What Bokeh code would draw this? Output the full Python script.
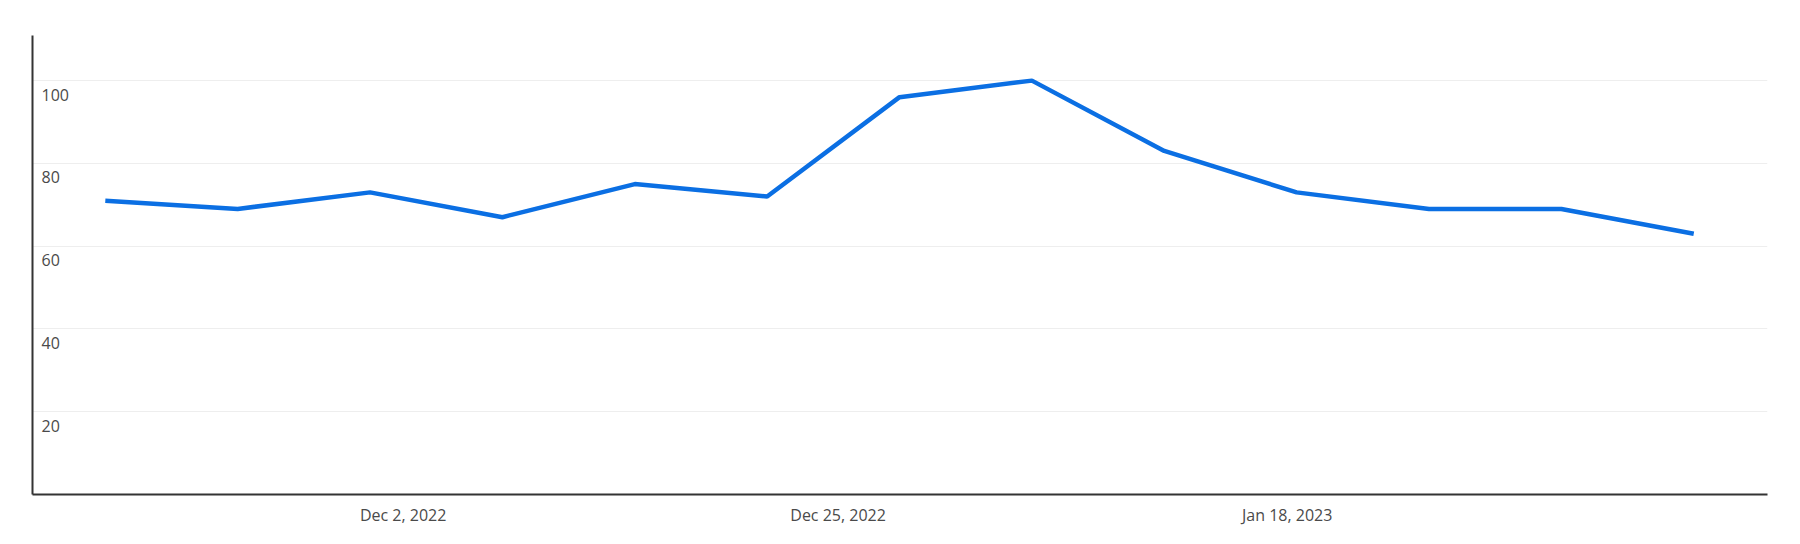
import pandas as pd
from bokeh.plotting import figure
from bokeh.models import FixedTicker, DatetimeTickFormatter, Range1d
from bokeh.core.properties import value
from bokeh.embed import file_html
from bokeh.resources import INLINE

# ---- data ----
dates = ["2022-11-16 12:00", "2022-11-23 12:00", "2022-11-30 12:00",
         "2022-12-07 12:00", "2022-12-14 12:00", "2022-12-21 12:00",
         "2022-12-28 12:00", "2023-01-04 12:00", "2023-01-11 12:00",
         "2023-01-18 12:00", "2023-01-25 12:00", "2023-02-01 12:00",
         "2023-02-08 12:00"]
values = [71, 69, 73, 67, 75, 72, 96, 100, 83, 73, 69, 69, 63]
x_tick_dates = ["2022-12-02 06:00", "2022-12-25 06:00", "2023-01-18 00:00"]
y_ticks = [20, 40, 60, 80, 100]
y_tick_labels = ["20", "40", "60", "80", "100"]

x = pd.to_datetime(dates)
x_start = x[0] - pd.Timedelta(days=3.85)
x_end = x[-1] + pd.Timedelta(days=3.9)

p = figure(width=1784, height=528, x_axis_type="datetime",
           output_backend="svg", toolbar_location=None,
           x_range=Range1d(x_start, x_end), y_range=Range1d(0, 110.9),
           min_border_left=32, min_border_right=17,
           min_border_top=35, min_border_bottom=34)
p.outline_line_color = None
p.background_fill_color = "white"
p.border_fill_color = "white"

p.line(x, values, line_color="#0b6fe3", line_width=4.5)

# x axis
tick_ms = [pd.Timestamp(d).value / 1e6 for d in x_tick_dates]
p.xaxis.ticker = FixedTicker(ticks=tick_ms)
fmt = "%b %-d, %Y"
p.xaxis.formatter = DatetimeTickFormatter(
    microseconds=fmt, milliseconds=fmt, seconds=fmt, minsec=fmt, minutes=fmt,
    hourmin=fmt, hours=fmt, days=fmt, months=fmt, years=fmt)
p.xaxis.major_tick_out = 0
p.xaxis.major_tick_in = 0
p.xaxis.minor_tick_out = 0
p.xaxis.minor_tick_in = 0
p.xaxis.major_label_standoff = 9
p.xaxis.major_label_text_font = "Open Sans"
p.xaxis.major_label_text_font_size = "16px"
p.xaxis.major_label_text_color = "#4a4a4a"
p.xaxis.axis_line_color = "#333333"
p.xaxis.axis_line_width = 2

# y axis: line only; labels are drawn inside the plot
p.yaxis.ticker = FixedTicker(ticks=[])
p.yaxis.major_tick_out = 0
p.yaxis.major_tick_in = 0
p.yaxis.minor_tick_out = 0
p.yaxis.minor_tick_in = 0
p.yaxis.major_label_standoff = 0
p.yaxis.axis_line_color = "#333333"
p.yaxis.axis_line_width = 2

p.xgrid.grid_line_color = None
p.ygrid.ticker = FixedTicker(ticks=y_ticks)
p.ygrid.grid_line_color = "#eeeeee"
p.ygrid.grid_line_width = 1

p.text(x=[x_start] * len(y_ticks), y=y_ticks, text=y_tick_labels,
       x_offset=9, y_offset=8, text_baseline="top", text_align="left",
       text_font=value("Open Sans"), text_font_size="16px",
       text_color="#4a4a4a")

open("out.html", "w").write(file_html(p, INLINE))
